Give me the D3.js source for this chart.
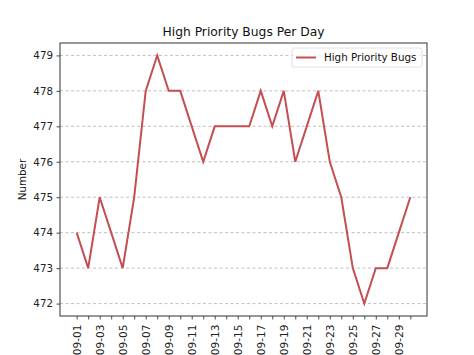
<!DOCTYPE html>
<html>
<head>
<meta charset="utf-8">
<script src="https://cdn.jsdelivr.net/npm/d3@7"></script>
<style>
  html, body { margin: 0; padding: 0; background: #fff; }
  svg { display: block; font-family: "DejaVu Sans", sans-serif; }
</style>
</head>
<body>
<svg id="chart" width="474" height="355"></svg>
<script>
const dates = ["09-01","09-02","09-03","09-04","09-05","09-06","09-07","09-08","09-09","09-10",
               "09-11","09-12","09-13","09-14","09-15","09-16","09-17","09-18","09-19","09-20",
               "09-21","09-22","09-23","09-24","09-25","09-26","09-27","09-28","09-29","09-30"];
const bugs = [474,473,475,474,473,475,478,479,478,478,
              477,476,477,477,477,477,478,477,478,476,
              477,478,476,475,473,472,473,473,474,475];
const yTicks = [472,473,474,475,476,477,478,479];
const xLabelTicks = ["09-01","09-03","09-05","09-07","09-09","09-11","09-13","09-15","09-17","09-19","09-21","09-23","09-25","09-27","09-29"];
const title = "High Priority Bugs Per Day";
const yLabel = "Number";
const seriesName = "High Priority Bugs";

const svg = d3.select("#chart");
const L = 60, R = 427, T = 43, B = 316;
const idx = dates.map((d, i) => i);
const xPad = (dates.length - 1) * 0.05;
const x = d3.scaleLinear().domain([-xPad, dates.length - 1 + xPad]).range([L, R]);
const yMin = d3.min(bugs), yMax = d3.max(bugs), yPad = (yMax - yMin) * 0.05;
const y = d3.scaleLinear().domain([yMin - yPad, yMax + yPad]).range([B, T]);

// grid
svg.append("g").selectAll("line").data(yTicks).join("line")
  .attr("x1", L).attr("x2", R)
  .attr("y1", d => y(d)).attr("y2", d => y(d))
  .attr("stroke", "#b0b0b0").attr("stroke-width", 0.8)
  .attr("stroke-dasharray", "3,2.5");

// y axis
const yAxis = d3.axisLeft(y).tickValues(yTicks).tickSize(3.5).tickPadding(3.5).tickFormat(d3.format("d"));
const gy = svg.append("g").attr("transform", `translate(${L},0)`).call(yAxis);
gy.select(".domain").remove();
gy.selectAll("line").attr("stroke", "#222").attr("stroke-width", 0.8);
gy.selectAll("text").attr("font-size", "10.3px").attr("fill", "#222").attr("font-family", "DejaVu Sans");

// x axis
const xAxis = d3.axisBottom(x).tickValues(idx).tickSize(3.5).tickFormat(i => xLabelTicks.includes(dates[i]) ? dates[i] : "");
const gx = svg.append("g").attr("transform", `translate(0,${B})`).call(xAxis);
gx.select(".domain").remove();
gx.selectAll("line").attr("stroke", "#222").attr("stroke-width", 0.8);
gx.selectAll("text")
  .attr("font-size", "10.6px").attr("fill", "#222").attr("font-family", "DejaVu Sans")
  .attr("text-anchor", "end").attr("dy", "0.35em")
  .attr("x", 0).attr("y", 0)
  .attr("transform", "translate(0,8.5) rotate(-90)");

// line
const line = d3.line().x((d, i) => x(i)).y(d => y(d));
svg.append("path").datum(bugs)
  .attr("d", line).attr("fill", "none")
  .attr("stroke", "#c44e52").attr("stroke-width", 2)
  .attr("stroke-linejoin", "miter").attr("stroke-linecap", "butt");

// frame
svg.append("rect").attr("x", L).attr("y", T).attr("width", R - L).attr("height", B - T)
  .attr("fill", "none").attr("stroke", "#333").attr("stroke-width", 1);

// title
svg.append("text").attr("x", (L + R) / 2).attr("y", 36).attr("text-anchor", "middle")
  .attr("font-size", "12.3px").attr("fill", "#111").text(title);

// y label
svg.append("text").attr("transform", `translate(26,${(T + B) / 2}) rotate(-90)`)
  .attr("text-anchor", "middle").attr("font-size", "10.3px").attr("fill", "#111").text(yLabel);

// legend
const lg = svg.append("g");
lg.append("rect").attr("x", 292).attr("y", 48).attr("width", 130).attr("height", 19).attr("rx", 2)
  .attr("fill", "#fff").attr("fill-opacity", 0.8).attr("stroke", "#d8d8d8").attr("stroke-width", 0.8);
lg.append("line").attr("x1", 296).attr("x2", 316).attr("y1", 57.5).attr("y2", 57.5)
  .attr("stroke", "#c44e52").attr("stroke-width", 2);
lg.append("text").attr("x", 324).attr("y", 57.5).attr("dy", "0.35em")
  .attr("font-size", "10.3px").attr("fill", "#111").text(seriesName);
</script>
</body>
</html>
